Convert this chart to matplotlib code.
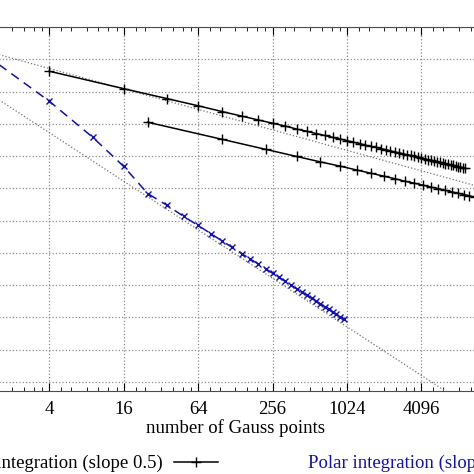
import numpy as np
import matplotlib
matplotlib.use("Agg")
import matplotlib.pyplot as plt
from matplotlib.ticker import FixedLocator, NullFormatter
from matplotlib.lines import Line2D

plt.rcParams['font.family'] = ['Liberation Serif', 'DejaVu Serif']

# upper black series: x = (2n)^2, log10 of error
x_std = [(2 * n) ** 2 for n in range(1, 49)]
e_std = [-1.37, -1.91, -2.22, -2.44, -2.62, -2.76, -2.88, -2.98, -3.07, -3.16,
         -3.23, -3.30, -3.36, -3.42, -3.47, -3.52, -3.57, -3.61, -3.66, -3.70,
         -3.73, -3.77, -3.80, -3.84, -3.87, -3.90, -3.93, -3.96, -3.98, -4.01,
         -4.04, -4.06, -4.09, -4.11, -4.13, -4.15, -4.17, -4.19, -4.21, -4.23,
         -4.25, -4.27, -4.29, -4.31, -4.33, -4.34, -4.36, -4.38]

# lower black series: x = (5k)^2
x_std2 = [(5 * k) ** 2 for k in range(1, 23)]
e_std2 = [-2.95, -3.48, -3.79, -4.01, -4.18, -4.31, -4.43, -4.53, -4.62, -4.70,
          -4.78, -4.84, -4.90, -4.96, -5.01, -5.06, -5.11, -5.15, -5.19, -5.23,
          -5.27, -5.30]

# blue polar series: x = n^2
x_pol = [n ** 2 for n in range(1, 32)]
e_pol = [-0.62, -2.30, -3.42, -4.32, -5.16, -5.53, -5.87, -6.15, -6.40, -6.63,
         -6.83, -7.02, -7.19, -7.34, -7.49, -7.63, -7.76, -7.88, -8.00, -8.11,
         -8.21, -8.31, -8.41, -8.50, -8.58, -8.67, -8.75, -8.83, -8.90, -8.97,
         -9.04]

# dotted reference slopes
x_ref = [1, 16384]
e_refA = [-0.65, -5.09]
e_refB = [-1.77, -12.3]

xticks = [4, 16, 64, 256, 1024, 4096, 16384]
xticklabels = ["4", "16", "64", "256", "1024", "4096", ""]

fig = plt.figure(figsize=(4.74, 4.74), dpi=100)
ax = fig.add_axes([-0.053, 0.175, 1.099, 0.768])

ax.plot(x_ref, 10 ** np.array(e_refA), ':', color='0.45', lw=0.9)
ax.plot(x_ref, 10 ** np.array(e_refB), ':', color='0.45', lw=0.9)
ax.plot(x_std, 10 ** np.array(e_std), '-', color='black', lw=1.1,
        marker='+', ms=7, mew=1)
ax.plot(x_std2, 10 ** np.array(e_std2), '-', color='black', lw=1.1,
        marker='+', ms=7, mew=1)
ax.plot(x_pol, 10 ** np.array(e_pol), '--', color='#1010b0', lw=1.1,
        dashes=(6, 4), marker='x', ms=4.5, mew=1)

ax.set_xscale('log', base=2)
ax.set_yscale('log')
ax.set_xlim(1, 16384)
ax.set_ylim(10 ** -11.28, 1)
ax.xaxis.set_major_locator(FixedLocator(xticks))
ax.set_xticklabels(xticklabels, fontsize=13.5)
minors = [m * 4 ** k for k in range(0, 7) for m in (1.25, 1.5, 2, 2.5, 3, 3.5)]
ax.xaxis.set_minor_locator(FixedLocator(minors))
ax.xaxis.set_minor_formatter(NullFormatter())
ax.yaxis.set_major_locator(FixedLocator([10.0 ** -k for k in range(0, 12)]))
ax.yaxis.set_minor_locator(FixedLocator([]))
ax.set_yticklabels([])
ax.tick_params(which='both', direction='in', top=True, right=True)
ax.tick_params(which='major', length=6, pad=7)
ax.tick_params(which='minor', length=3)
ax.grid(True, which='major', linestyle=':', color='0.55', lw=0.9)
for s in ax.spines.values():
    s.set_color('0.3')
ax.set_xlabel("number of Gauss points", fontsize=13.5, labelpad=1)

# gnuplot-like key along the bottom
fig.text(163 / 474, 1 - 463 / 474, "Standard integration (slope 0.5)",
         ha='right', va='center', fontsize=13.5)
fig.add_artist(Line2D([174 / 474, 218 / 474], [1 - 462 / 474] * 2,
                      color='black', lw=1.1, transform=fig.transFigure))
fig.add_artist(Line2D([196 / 474], [1 - 462 / 474], color='black',
                      marker='+', ms=7, mew=1, transform=fig.transFigure))
fig.text(308 / 474, 1 - 463 / 474, "Polar integration (slope 1.5)",
         ha='left', va='center', fontsize=13.5, color='#1010b0')

fig.savefig("out.png", dpi=100)
